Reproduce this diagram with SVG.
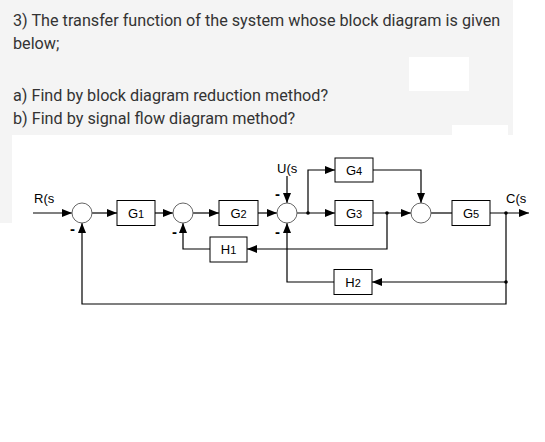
<svg xmlns="http://www.w3.org/2000/svg" width="545" height="442" viewBox="0 0 545 442">
<style>
.hdr{font-family:Roboto,"Liberation Sans",sans-serif;font-size:16.2px;fill:#333}
.lbl{font-family:"Liberation Sans",Arial,sans-serif;font-size:13px;fill:#000}
.sub{font-size:11px}
.box{fill:#fff;stroke:#000;stroke-width:1}
.sum{fill:#fff;stroke:#666;stroke-width:1}
.ln{fill:none;stroke:#000;stroke-width:1.2}
.arr{marker-end:url(#ah)}
.minus{font-family:"Liberation Sans",Arial,sans-serif;font-size:15px;font-weight:bold;fill:#000}
.dot{fill:#000}
</style>
<defs>
<marker id="ah" markerUnits="userSpaceOnUse" markerWidth="10" markerHeight="8" refX="10" refY="4" orient="auto">
<path d="M0,0 L10,4 L0,8 Z" fill="#000"/>
</marker>
</defs>
<g id="background">
<rect x="0" y="0" width="513" height="135" fill="#f4f4f4"/>
<rect x="0" y="135" width="12" height="88" fill="#f4f4f4"/>
<rect x="409" y="57" width="60" height="34" fill="#fff"/>
<rect x="452" y="125" width="56" height="10" fill="#fff"/>
</g>
<g id="question">
<text class="hdr" x="13" y="26">3) The transfer function of the system whose block diagram is given</text>
<text class="hdr" x="13" y="49">below;</text>
<text class="hdr" x="13" y="101">a) Find by block diagram reduction method?</text>
<text class="hdr" x="13" y="124">b) Find by signal flow diagram method?</text>
</g>
<g id="connectors">
<path class="ln arr" d="M33,213 H72"/>
<path class="ln arr" d="M92,213 H117"/>
<path class="ln arr" d="M155,213 H173"/>
<path class="ln arr" d="M193,213 H219"/>
<path class="ln arr" d="M258,213 H277"/>
<path class="ln arr" d="M297,213 H335"/>
<path class="ln arr" d="M308,213 V170 H335"/>
<path class="ln arr" d="M373,170 H421 V203"/>
<path class="ln arr" d="M373,213 H411"/>
<path class="ln" d="M431,213 H452"/>
<path class="ln arr" d="M490,213 H529"/>
<path class="ln arr" d="M287,176 V203"/>
<path class="ln arr" d="M387,213 V249 H247"/>
<path class="ln arr" d="M210,249 H183 V223"/>
<path class="ln arr" d="M506,282 H372"/>
<path class="ln arr" d="M334,282 H287 V223"/>
<path class="ln arr" d="M506,213 V304 H82 V223"/>
<circle class="dot" cx="308" cy="213" r="1.8"/>
<circle class="dot" cx="387" cy="213" r="1.8"/>
<circle class="dot" cx="506" cy="213" r="1.8"/>
<circle class="dot" cx="506" cy="282" r="1.8"/>
</g>
<g id="R">
<text class="lbl" x="34" y="203">R(s</text>
</g>
<g id="U">
<text class="lbl" x="277" y="173">U(s</text>
</g>
<g id="C">
<text class="lbl" x="506" y="203">C(s</text>
</g>
<g id="sum1">
<circle class="sum" cx="82" cy="213" r="10"/>
<text class="minus" x="70" y="234">-</text>
</g>
<g id="G1">
<rect class="box" x="117" y="200.5" width="38" height="25"/>
<text class="lbl" x="136" y="218" text-anchor="middle">G<tspan class="sub">1</tspan></text>
</g>
<g id="sum2">
<circle class="sum" cx="183" cy="213" r="10"/>
<text class="minus" x="172" y="237">-</text>
</g>
<g id="G2">
<rect class="box" x="219" y="200.5" width="39" height="25"/>
<text class="lbl" x="238.5" y="218" text-anchor="middle">G<tspan class="sub">2</tspan></text>
</g>
<g id="sum3">
<circle class="sum" cx="287" cy="213" r="10"/>
<text class="minus" x="275" y="199">-</text>
<text class="minus" x="275" y="237">-</text>
</g>
<g id="G4">
<rect class="box" x="335" y="158" width="38" height="24"/>
<text class="lbl" x="354" y="175" text-anchor="middle">G<tspan class="sub">4</tspan></text>
</g>
<g id="G3">
<rect class="box" x="335" y="200.5" width="38" height="25"/>
<text class="lbl" x="354" y="218" text-anchor="middle">G<tspan class="sub">3</tspan></text>
</g>
<g id="sum4">
<circle class="sum" cx="421" cy="213" r="10"/>
</g>
<g id="G5">
<rect class="box" x="452" y="200.5" width="38" height="25"/>
<text class="lbl" x="471" y="218" text-anchor="middle">G<tspan class="sub">5</tspan></text>
</g>
<g id="H1">
<rect class="box" x="210" y="237" width="37" height="25"/>
<text class="lbl" x="228.5" y="254" text-anchor="middle">H<tspan class="sub">1</tspan></text>
</g>
<g id="H2">
<rect class="box" x="334" y="269.5" width="38" height="25"/>
<text class="lbl" x="353" y="287" text-anchor="middle">H<tspan class="sub">2</tspan></text>
</g>
</svg>
